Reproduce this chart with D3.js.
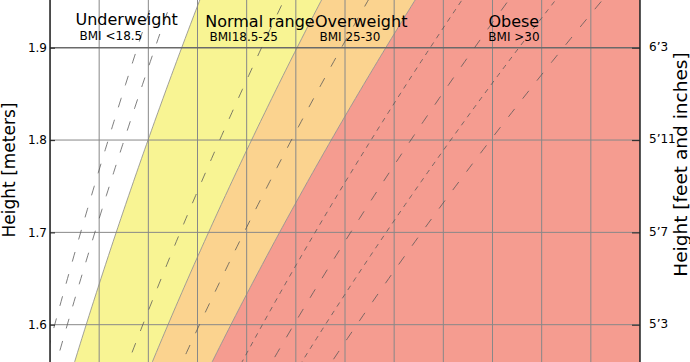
<!DOCTYPE html>
<html><head><meta charset="utf-8">
<script src="https://cdn.jsdelivr.net/npm/d3@7"></script>
<style>html,body{margin:0;padding:0;background:#fff;}svg{display:block;font-family:"DejaVu Sans",sans-serif;}</style>
</head><body><svg id="c" width="690" height="362"></svg>
<script>
// ---- data ----
const heightTicks = [1.6, 1.7, 1.8, 1.9];
const heightTickLabelsImperial = ["5’3", "5’7", "5’11", "6’3"];
const weightGrid = [40, 50, 60, 70, 80, 90, 100, 110, 120, 130, 140, 150, 160];
const categories = ["Underweight", "Normal range", "Overweight", "Obese"];
const categoryRanges = ["BMI <18.5", "BMI18.5-25", "BMI 25-30", "BMI >30"];
const bmiBounds = [18.5, 25, 30];
const bmiSubdivisions = [16, 17, 23, 27.5, 32.5, 35, 37.5, 40];
const subdivisionKind = ["principal", "principal", "principal", "principal", "additional", "principal", "additional", "principal"];

// ---- layout ----
const svg = d3.select("#c");
const x = d3.scaleLinear().domain([40, 160]).range([50, 640]);
const y = d3.scaleLinear().domain([1.6, 1.9]).range([324.7, 47.7]);
const hs = d3.range(1.50, 2.0001, 0.005);
const curve = b => hs.map(h => [x(b * h * h), y(h)]);
const line = d3.line();

svg.append("defs").append("clipPath").attr("id", "plot")
  .append("rect").attr("x", 50).attr("y", -60).attr("width", 590).attr("height", 500);

const g = svg.append("g").attr("clip-path", "url(#plot)");
const fills = ["#ffffff", "#f8f493", "#fbd38f", "#f59c90"];
const edges = [0].concat(bmiBounds, [200]);
categories.forEach((c, i) => {
  const pts = curve(edges[i]).concat(curve(edges[i + 1]).reverse());
  g.append("path").attr("d", line(pts) + "Z").attr("fill", fills[i]);
});
bmiBounds.forEach(b => {
  g.append("path").attr("d", line(curve(b))).attr("fill", "none")
    .attr("stroke", "#8a8a8a").attr("stroke-width", 0.8);
});
// grid
g.selectAll("line.v").data(weightGrid).join("line")
  .attr("x1", d => x(d)).attr("x2", d => x(d)).attr("y1", -60).attr("y2", 440)
  .attr("stroke", "#888").attr("stroke-width", 1);
g.selectAll("line.h").data(heightTicks).join("line")
  .attr("x1", 50).attr("x2", 640).attr("y1", d => y(d)).attr("y2", d => y(d))
  .attr("stroke", (d, i) => i === heightTicks.length - 1 ? "#6a6a6a" : "#888")
  .attr("stroke-width", (d, i) => i === heightTicks.length - 1 ? 1.5 : 1);
// dashed subdivisions
bmiSubdivisions.forEach((b, i) => {
  g.append("path").attr("d", line(curve(b))).attr("fill", "none")
    .attr("stroke", "#555").attr("stroke-opacity", 0.85).attr("stroke-width", 0.9)
    .attr("stroke-dasharray", subdivisionKind[i] === "additional" ? "5,5" : "10,13");
});

// axes
const yl = d3.axisLeft(y).tickValues(heightTicks).tickSize(-5).tickPadding(3).tickFormat(d3.format(".1f"));
const ya = svg.append("g").attr("transform", "translate(50,0)").call(yl);
const yr = d3.axisRight(y).tickValues(heightTicks).tickSize(-8).tickPadding(9)
  .tickFormat((d, i) => heightTickLabelsImperial[i]);
const yb = svg.append("g").attr("transform", "translate(640,0)").call(yr);
[ya, yb].forEach(a => {
  a.select(".domain").remove();
  a.selectAll("line").attr("stroke", "#333").attr("stroke-width", 1.2);
  a.selectAll("text").attr("font-size", 12).attr("font-family", "DejaVu Sans").attr("fill", "#000");
});
yb.selectAll("text").attr("dy", "0.22em");
svg.append("line").attr("x1", 50).attr("x2", 50).attr("y1", -10).attr("y2", 372).attr("stroke", "#222").attr("stroke-width", 1.5);
svg.append("line").attr("x1", 640).attr("x2", 640).attr("y1", -10).attr("y2", 372).attr("stroke", "#222").attr("stroke-width", 1.5);

// axis titles
svg.append("text").attr("transform", "translate(14.5,170) rotate(-90)").attr("text-anchor", "middle")
  .attr("font-size", 17).text("Height [meters]");
svg.append("text").attr("transform", "translate(686.5,164.5) rotate(-90)").attr("text-anchor", "middle")
  .attr("font-size", 18.5).text("Height [feet and inches]");

// category labels
const labelPos = [[75.5, 25, 79.5, 39.5], [205.2, 26.5, 209.5, 40.5], [315, 26.5, 319.5, 40.5], [488.4, 26.5, 488.3, 40.5]];
categories.forEach((c, i) => {
  const p = labelPos[i];
  svg.append("text").attr("x", p[0]).attr("y", p[1]).attr("font-size", 16).text(c);
  svg.append("text").attr("x", p[2]).attr("y", p[3]).attr("font-size", 12).text(categoryRanges[i]);
});
</script></body></html>
